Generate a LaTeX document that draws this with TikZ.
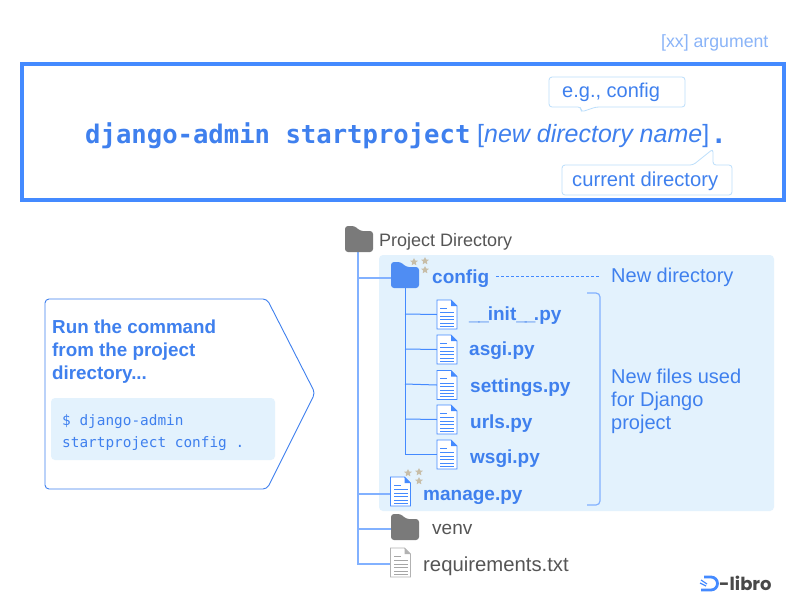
\documentclass[tikz,border=0pt]{standalone}
\usepackage{fontspec}
\setmainfont{Liberation Sans}
\newfontfamily\monof{DejaVu Sans Mono}
\newfontfamily\logof{Poppins}
\definecolor{frameblue}{HTML}{448AFF}
\definecolor{textblue}{HTML}{3F80EE}
\definecolor{lineblue}{HTML}{82B1FF}
\definecolor{panelblue}{HTML}{E3F2FD}
\definecolor{calloutline}{HTML}{BBDEFB}
\definecolor{softblue}{HTML}{8AB4F8}
\definecolor{darktext}{HTML}{555555}
\definecolor{foldergrey}{HTML}{7A7A7A}
\definecolor{foldblue}{HTML}{4F8DF3}
\definecolor{startan}{HTML}{C8BEA8}
\newcommand\fsz[1]{\fontsize{#1}{#1}\selectfont}
\newcommand\fszl[2]{\fontsize{#1}{#2}\selectfont}
\newcommand\starshape{(90:4pt)--(126:1.9pt)--(162:4pt)--(198:1.9pt)--(234:4pt)--(270:1.9pt)--(306:4pt)--(342:1.9pt)--(18:4pt)--(54:1.9pt)--cycle}
\tikzset{
  lbl/.style={inner sep=0pt,anchor=base west,text=textblue},
  cmd/.style={lbl,font=\monof\bfseries\fsz{25.6}},
  file/.style={lbl,font=\bfseries\fsz{19}},
  plain/.style={lbl,text=darktext,font=\fsz{18}},
  note/.style={lbl,font=\fszl{20}{23}},
  calloutbox/.style={draw=calloutline,fill=white,line width=0.8pt,rounded corners=3pt},
  treeline/.style={draw=lineblue,line width=1.2pt},
  subline/.style={draw=frameblue,line width=1pt},
  iconbox/.style={inner sep=0pt,minimum width=20pt,minimum height=28pt},
  folderbox/.style={inner sep=0pt,minimum width=28pt,minimum height=26pt},
  pics/fileicon/.style n args={2}{code={
    \draw[draw=#1,fill=white,line width=0.9pt] (-10,-14.5) -- (4,-14.5) -- (10,-8.5) -- (10,14.5) -- (-10,14.5) -- cycle;
    \fill[#1] (4,-14.5) -- (10,-8.5) -- (4,-8.5) -- cycle;
    \fill[#2] (-7,-7) rectangle (0,-5.8);
    \foreach \yy in {-2.5,1,4.5,8,11} {\fill[#2] (-7,\yy) rectangle (7,\yy+1.3);}
  }},
  pics/foldericon/.style={code={
    \fill[#1,rounded corners=3pt] (-14,-13) -- (-4,-13) -- (1,-8) -- (14,-8) -- (14,13) -- (-14,13) -- cycle;
  }},
  pics/starcluster/.style={code={
    \fill[startan,shift={(0,0)}] \starshape;
    \fill[startan,shift={(11,-1)}] \starshape;
    \fill[startan,shift={(11,8)}] \starshape;
  }},
}
\begin{document}
\begin{tikzpicture}[x=1pt,y=-1pt]
\useasboundingbox (0,0) rectangle (800,600);
\fill[white] (0,0) rectangle (800,600);

% top frame
\draw[frameblue,line width=4pt] (22,64) rectangle (784,200);
\node[lbl,text=softblue,font=\fsz{17.7}] (legend) at (661,47) {[xx] argument};
\node[cmd] (command) at (85,143) {django-admin startproject};
\node[lbl,font=\itshape\fsz{25}] (argname) at (477,142) {\textup{[}new directory name\textup{]}};
\node[cmd] (dot) at (711,143) {.};

% callouts
\draw[calloutbox] (549,77) -- (685,77) -- (685,107) -- (596,107) -- (581,112) -- (581,107) -- (549,107) -- cycle;
\node[note] (eg) at (562,97) {e.g., config};
\draw[calloutbox] (562,165) -- (693,165) -- (713,149) -- (713,165) -- (732,165) -- (732,195) -- (562,195) -- cycle;
\node[note,font=\fsz{20.2}] (current) at (572,186) {current directory};

% left pentagon
\draw[textblue,line width=0.9pt,rounded corners=4pt] (45,299) -- (267,299) -- (315,393) -- (267,489) -- (45,489) -- cycle;
\node[lbl,font=\bfseries\fszl{18.8}{23},align=left] (runtext) at (52,379) {Run the command\\from the project\\directory...};
\fill[panelblue,rounded corners=4pt] (51,398) rectangle (275,460);
\node[lbl,font=\monof\fszl{14.4}{22},align=left] (code) at (62,447) {\$ django-admin\\startproject config .};

% panel
\fill[panelblue,rounded corners=4pt] (379,255) rectangle (774,511);

% icons as named nodes
\node[folderbox] (root) at (359,239) {};
\node[folderbox] (config) at (405,275) {};
\node[iconbox] (init) at (447,314.5) {};
\node[iconbox] (asgi) at (447,349.5) {};
\node[iconbox] (settings) at (447,385) {};
\node[iconbox] (urls) at (447,419.5) {};
\node[iconbox] (wsgi) at (447,454.5) {};
\node[iconbox] (manage) at (400.5,491.5) {};
\node[folderbox] (venv) at (405,527) {};
\node[iconbox] (req) at (400.5,562.5) {};
\coordinate (trunkend) at (358,564);
\coordinate (subend) at (405,454.5);

% tree connectors
\draw[treeline] (root.south -| trunkend) -- (trunkend) -- (req.west |- trunkend);
\draw[treeline] (358,278) -- (config.west |- 0,278);
\draw[treeline] (358,494) -- (manage.west |- 0,494);
\draw[treeline] (358,529) -- (venv.west |- 0,529);
\draw[subline] (config.south) -- (subend) -- (wsgi.west);
\draw[subline] (405,314) -- (init.west);
\draw[subline] (405,349) -- (asgi.west);
\draw[subline] (405,384) -- (settings.west);
\draw[subline] (405,419) -- (urls.west);

\pic at (root) {foldericon=foldergrey};
\pic at (config) {foldericon=foldblue};
\pic at (venv) {foldericon=foldergrey};
\foreach \n in {init,asgi,settings,urls,wsgi,manage} {\pic at (\n) {fileicon={frameblue}{frameblue}};}
\pic at (req) {fileicon={gray!60}{gray!70}};
\pic at (414,262) {starcluster};
\pic at (408,473) {starcluster};

% labels
\node[plain] (rootlabel) at (379,246) {Project Directory};
\node[file] (configlabel) at (432,283) {config};
\node[file] (initlabel) at (469,320) {\_\kern-1.5pt\_\kern-1pt init\_\kern-2pt\_\kern-1.5pt .py};
\node[file] (asgilabel) at (469,355) {asgi.py};
\node[file] (settingslabel) at (470,392) {settings.py};
\node[file] (urlslabel) at (470,428) {urls.py};
\node[file] (wsgilabel) at (470,463) {wsgi.py};
\node[file] (managelabel) at (423,500) {manage.py};
\node[plain,font=\fsz{19}] (venvlabel) at (432,534) {venv};
\node[plain,font=\fsz{20.3}] (reqlabel) at (423,571) {requirements.txt};

\node[note] (newdir) at (611,282) {New directory};
\node[note,align=left] (newfiles) at (611,429) {New files used\\for Django\\project};
\coordinate (dashstart) at (496,276);
\coordinate (dashend) at (600,276);
\draw[frameblue,line width=0.9pt,dashed,dash pattern=on 3pt off 2pt] (dashstart) -- (dashend);
\draw[lineblue,line width=1.2pt,rounded corners=4pt] (587,293) -- (600,293) -- (600,505) -- (587,505);

% logo
\draw[frameblue,line width=2.8pt] (704,577) -- (711,577) arc[start angle=-90,end angle=90,radius=6.5] -- (701,590);
\draw[frameblue,line width=1.2pt] (701,580) -- (707,584) (700,583) -- (706,586);
\node[lbl,text=darktext!85!black,font=\logof\bfseries\fsz{18}] (logotext) at (719,590) {-libro};
\end{tikzpicture}
\end{document}
